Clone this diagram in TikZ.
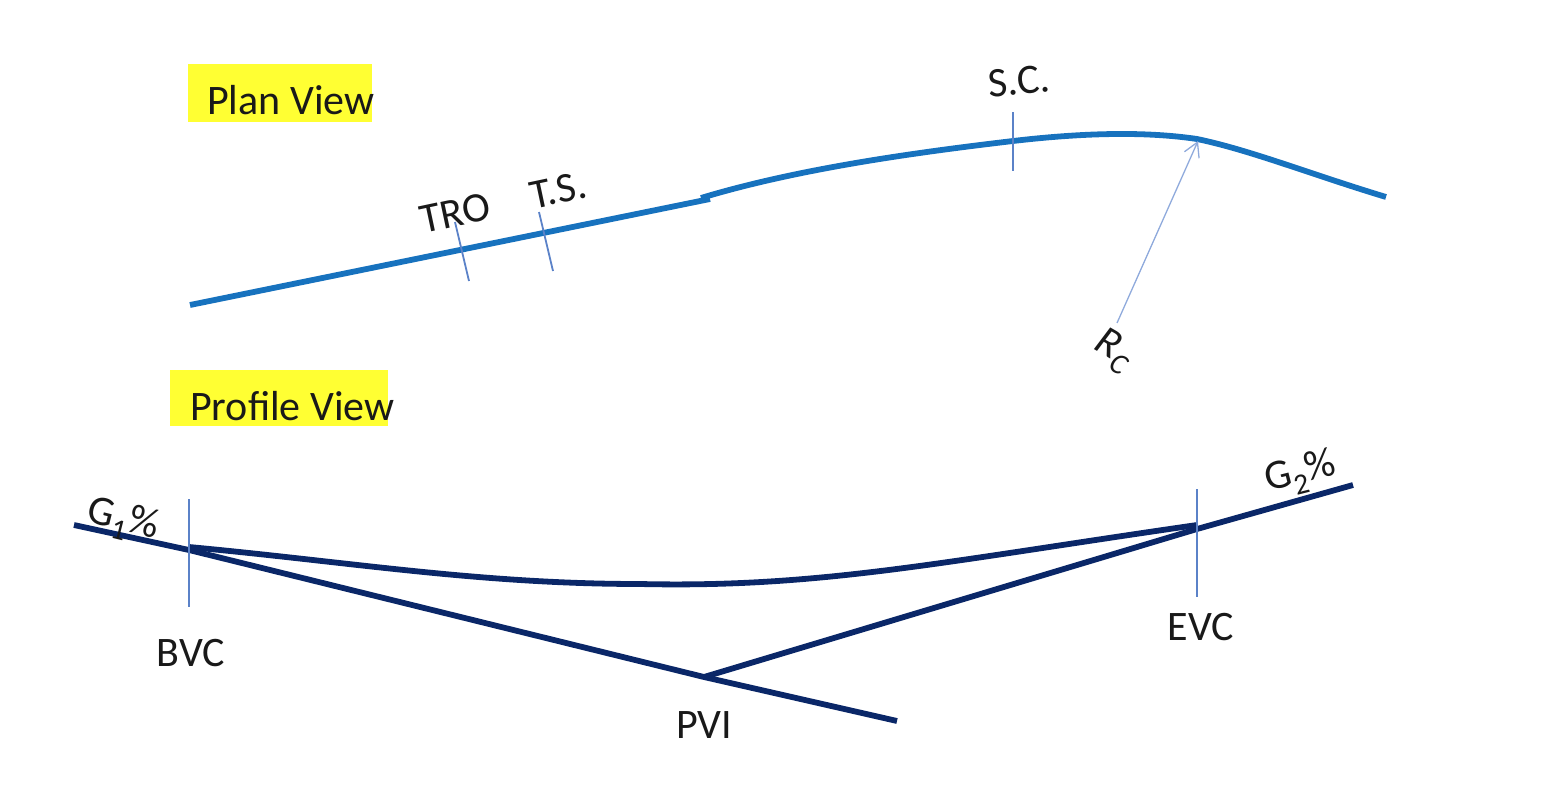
\documentclass[tikz,border=0pt]{standalone}
\usepackage{fontspec}
\usetikzlibrary{arrows.meta}
\setmainfont{Carlito}
\definecolor{planblue}{HTML}{1772BE}
\definecolor{tickblue}{HTML}{5B82C8}
\definecolor{arrowblue}{HTML}{8FAADC}
\definecolor{profnavy}{HTML}{0A2768}
\definecolor{hilite}{HTML}{FFFF33}
\begin{document}
\begin{tikzpicture}[x=1pt,y=-1pt,
  planline/.style={draw=planblue,line width=5.8pt},
  profline/.style={draw=profnavy,line width=5.8pt},
  tickline/.style={draw=tickblue,line width=1.8pt},
  lbl/.style={inner sep=0pt,text=black!90,font=\fontsize{42}{42}\selectfont},
  hl/.style={fill=hilite,draw=none}]
\useasboundingbox (0,0) rectangle (1548,798);
\fill[hl] (188,64) rectangle (372,122);
\fill[hl] (170,370) rectangle (388,426);
% plan
\coordinate (p0) at (190,305);
\coordinate (p1) at (710,199);
\coordinate (p2) at (701,198);
\coordinate (p3) at (1197,139);
\coordinate (p4) at (1386,197);
\draw[planline] (p0) -- (p1);
\draw[planline] (p2) .. controls (800,168) and (920,152) .. (1013,141)
  .. controls (1090,132) and (1150,132) .. (p3)
  .. controls (1250,150) and (1310,174) .. (p4);
\draw[tickline] (455,222) -- (469,281);
\draw[tickline] (539,212) -- (553,271);
\draw[tickline] (1013,112) -- (1013,171);
\node[lbl,rotate=12] (tro) at (455,213) {TRO};
\node[lbl,rotate=12] (ts) at (558,190) {T.S.};
\node[lbl,rotate=5] (sc) at (1019,81) {S.C.};
\node[lbl,anchor=west] (plan) at (207,100) {Plan View};
\node[lbl,anchor=west] (profile) at (190,406) {Profile View};
\node[lbl,rotate=-30] (rc) at (1114,351) {\textit{R}\textsubscript{\textit{C}}};
\coordinate (rcs) at (1117,323);
\coordinate (rce) at (1198,141);
\draw[draw=arrowblue,line width=1.3pt,-{Straight Barb[length=14pt,width=16pt]}] (rcs) -- (rce);
% profile
\coordinate (g1) at (74,525);
\coordinate (g1e) at (897,721);
\coordinate (bvc) at (189,547);
\coordinate (pvi) at (704,677);
\coordinate (evc) at (1197,525);
\coordinate (g2) at (1353,485);
\draw[profline] (g1) -- (189,550) -- (pvi) -- (g1e);
\draw[profline] (pvi) -- (1197,529) -- (g2);
\draw[profline] (bvc) .. controls (350,562) and (480,584) .. (640,584)
  .. controls (820,588) and (940,562) .. (evc);
\draw[tickline] (189,499) -- (189,607);
\draw[tickline] (1197,489) -- (1197,597);
\node[lbl,rotate=-14] (g1l) at (123,521) {G\textsubscript{1}\%};
\node[lbl,rotate=14] (g2l) at (1301,474) {G\textsubscript{2}\%};
\node[lbl] (bvcl) at (191,653) {BVC};
\node[lbl] (evcl) at (1201,627) {EVC};
\node[lbl] (pvil) at (704,725) {PVI};
\end{tikzpicture}
\end{document}
